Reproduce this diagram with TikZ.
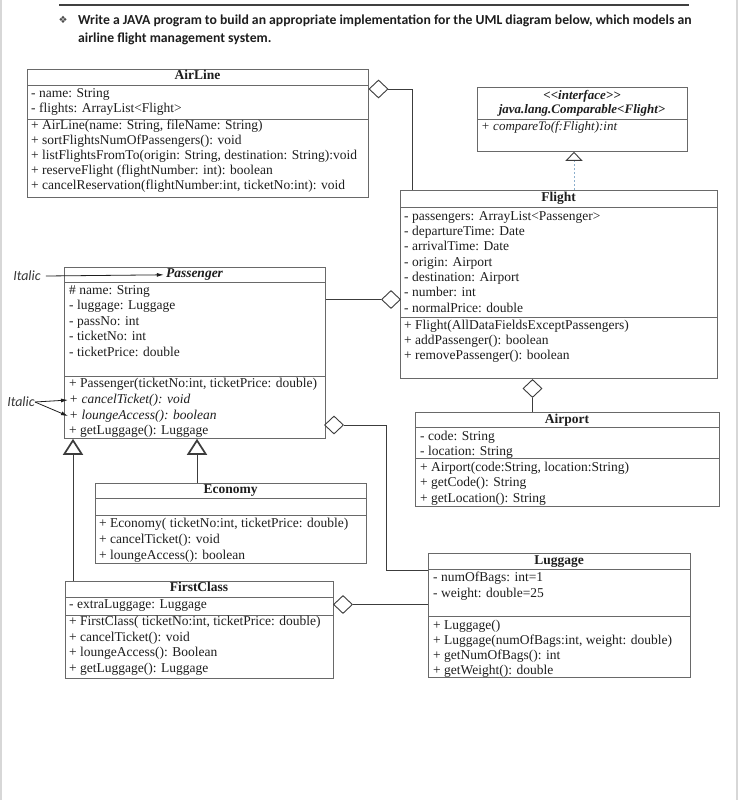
\documentclass[tikz,border=0pt]{standalone}
\usepackage{fontspec}
\setmainfont{Liberation Serif}
\newfontfamily\hdrfont{Carlito}
\newfontfamily\symfont{DejaVu Sans}
\usetikzlibrary{arrows.meta,shapes.geometric}
\definecolor{ink}{RGB}{30,30,30}
\definecolor{boxline}{RGB}{105,105,105}
\definecolor{connc}{RGB}{60,60,60}
\definecolor{dotc}{RGB}{140,175,205}
\definecolor{lblc}{RGB}{55,55,55}
\definecolor{edgec}{RGB}{215,215,215}
\begin{document}
\begin{tikzpicture}[x=1pt,y=-1pt,
 cls/.style={draw=boxline, line width=0.8pt, anchor=north west, inner sep=0pt},
 txt/.style={anchor=mid west, inner sep=0pt, text=ink, font=\fontsize{13.5}{15}\selectfont},
 ttl/.style={anchor=mid, inner sep=0pt, text=ink, font=\fontsize{13.5}{15}\selectfont\bfseries},
 sepl/.style={draw=boxline, line width=0.8pt},
 agg/.style={diamond, draw=connc, fill=white, line width=0.9pt, minimum width=19pt, minimum height=18pt, inner sep=0pt},
 wire/.style={draw=connc, line width=0.9pt},
 inh/.style={wire, -{Triangle[open, length=16pt, width=20pt, line width=1.7pt]}},
 real/.style={draw=dotc, line width=1pt, dash pattern=on 2pt off 2pt, -{Triangle[open, length=9pt, width=17pt, color=connc, line width=0.9pt]}},
 lbl/.style={inner sep=0pt, text=lblc, font=\hdrfont\itshape\fontsize{14}{16}\selectfont},
 lblarrow/.style={draw=ink, line width=0.8pt, -{Latex[length=7pt, width=4pt]}},
 hdr/.style={anchor=base west, inner sep=0pt, text=ink, font=\hdrfont\bfseries\fontsize{13.7}{16}\selectfont}
]
\useasboundingbox (0,0) rectangle (738,800);
\fill[white] (0,0) rectangle (738,800);
\draw[edgec, line width=2pt] (1,0) -- (1,800);
\draw[edgec, line width=2pt] (737,0) -- (737,800);

% header
\draw[ink!85, line width=2pt] (59,5) -- (689,5);
\node[inner sep=0pt, text=ink!80, font=\symfont\fontsize{10}{11}\selectfont] (hb) at (63,20) {❖};
\node[hdr] (h1) at (78,24.5) {Write a JAVA program to build an appropriate implementation for the UML diagram below, which models an};
\node[hdr] (h2) at (78,42.5) {airline flight management system.};

% AirLine
\node[cls, minimum width=341pt, minimum height=128pt] (airline) at (27,69) {};
\node[ttl] (alT) at (197.5,77.5) {AirLine};
\draw[sepl] (27,85) -- (368,85);
\draw[sepl] (27,119) -- (368,119);
\foreach \t [count=\i] in {{- name: String},{- flights: ArrayList<Flight>}}
  \node[txt] (alA\i) at (31,80+15*\i) {\t};
\foreach \t [count=\i] in {{+ AirLine(name: String, fileName: String)},{+ sortFlightsNumOfPassengers(): void},{+ listFlightsFromTo(origin: String, destination: String):void},{+ reserveFlight (flightNumber: int): boolean},{+ cancelReservation(flightNumber:int, ticketNo:int): void}}
  \node[txt] (alM\i) at (31,112+15*\i) {\t};

% Interface
\node[cls, minimum width=210pt, minimum height=64pt] (iface) at (477,87) {};
\node[ttl, font=\fontsize{13}{15}\selectfont\bfseries\itshape] (ifA) at (582,97) {{<}{<}interface{>}{>}};
\node[ttl, font=\fontsize{13}{15}\selectfont\bfseries\itshape] (ifB) at (582,111) {java.lang.Comparable<Flight>};
\draw[sepl] (477,119) -- (687,119);
\node[txt, font=\fontsize{13}{15}\selectfont\itshape] (ifC) at (481,128) {+ compareTo(f:Flight):int};

% Flight
\node[cls, minimum width=317pt, minimum height=188pt] (flight) at (400,190) {};
\node[ttl] (flT) at (558.5,199.5) {Flight};
\draw[sepl] (400,207) -- (717,207);
\draw[sepl] (400,317) -- (717,317);
\foreach \t [count=\i] in {{- passengers: ArrayList<Passenger>},{- departureTime: Date},{- arrivalTime: Date},{- origin: Airport},{- destination: Airport},{- number: int},{- normalPrice: double}}
  \node[txt] (flA\i) at (404,202.7+15.3*\i) {\t};
\foreach \t [count=\i] in {{+ Flight(AllDataFieldsExceptPassengers)},{+ addPassenger(): boolean},{+ removePassenger(): boolean}}
  \node[txt] (flM\i) at (404,312+15*\i) {\t};

% Passenger
\node[cls, minimum width=261pt, minimum height=171pt] (passenger) at (64,267) {};
\node[ttl, font=\fontsize{13.5}{15}\selectfont\bfseries\itshape] (pT) at (194.5,275.5) {Passenger};
\draw[sepl] (64,282) -- (325,282);
\draw[sepl] (64,376) -- (325,376);
\foreach \t [count=\i] in {{\# name: String},{- luggage: Luggage},{- passNo: int},{- ticketNo: int},{- ticketPrice: double}}
  \node[txt] (pA\i) at (69,276.5+15.5*\i) {\t};
\node[txt] (pM1) at (69,385) {+ Passenger(ticketNo:int, ticketPrice: double)};
\node[txt, font=\fontsize{13.5}{15}\selectfont\itshape] (pM2) at (69,401) {+ cancelTicket(): void};
\node[txt, font=\fontsize{13.5}{15}\selectfont\itshape] (pM3) at (69,417) {+ loungeAccess(): boolean};
\node[txt] (pM4) at (69,432) {+ getLuggage(): Luggage};

% Airport
\node[cls, minimum width=304pt, minimum height=94pt] (airport) at (415,412) {};
\node[ttl] (apT) at (567,421.5) {Airport};
\draw[sepl] (415,427) -- (719,427);
\draw[sepl] (415,458) -- (719,458);
\foreach \t [count=\i] in {{- code: String},{- location: String}}
  \node[txt] (apA\i) at (420,422.5+15.5*\i) {\t};
\foreach \t [count=\i] in {{+ Airport(code:String, location:String)},{+ getCode(): String},{+ getLocation(): String}}
  \node[txt] (apM\i) at (420,453.5+15.5*\i) {\t};

% Economy
\node[cls, minimum width=271pt, minimum height=80pt] (economy) at (95,483) {};
\node[ttl] (ecT) at (230.5,491.5) {Economy};
\draw[sepl] (95,498) -- (366,498);
\draw[sepl] (95,515) -- (366,515);
\foreach \t [count=\i] in {{+ Economy( ticketNo:int, ticketPrice: double)},{+ cancelTicket(): void},{+ loungeAccess(): boolean}}
  \node[txt] (ecM\i) at (99,509+16*\i) {\t};

% FirstClass
\node[cls, minimum width=268pt, minimum height=97pt] (firstclass) at (65,581) {};
\node[ttl] (fcT) at (199,589.5) {FirstClass};
\draw[sepl] (65,597) -- (333,597);
\draw[sepl] (65,615) -- (333,615);
\node[txt] (fcA1) at (69,606.5) {- extraLuggage: Luggage};
\foreach \t [count=\i] in {{+ FirstClass( ticketNo:int, ticketPrice: double)},{+ cancelTicket(): void},{+ loungeAccess(): Boolean},{+ getLuggage(): Luggage}}
  \node[txt] (fcM\i) at (69,607.5+15.7*\i) {\t};

% Luggage
\node[cls, minimum width=262pt, minimum height=124pt] (luggage) at (428,553) {};
\node[ttl] (lgT) at (559,562.5) {Luggage};
\draw[sepl] (428,569) -- (690,569);
\draw[sepl] (428,616) -- (690,616);
\foreach \t [count=\i] in {{- numOfBags: int=1},{- weight: double=25}}
  \node[txt] (lgA\i) at (433,563+16*\i) {\t};
\foreach \t [count=\i] in {{+ Luggage()},{+ Luggage(numOfBags:int, weight: double)},{+ getNumOfBags(): int},{+ getWeight(): double}}
  \node[txt] (lgM\i) at (433,612+15*\i) {\t};

% aggregations
\node[agg] (d1) at (378.5,89) {};
\coordinate (fjoin) at ([xshift=12pt]flight.north west);
\draw[wire] (d1.east) -| (fjoin);

\node[agg] (d2) at (391,299.5) {};
\draw[wire] (passenger.east |- d2.west) -- (d2.west);

\node[agg] (d3) at (532.5,388.5) {};
\draw[wire] (d3.south) -- (d3.south |- airport.north);

\node[agg] (d4) at (334,425) {};
\coordinate (lgin) at ([yshift=-17pt]luggage.north west);
\draw[wire] (d4.east) -- ++(42,0) |- (lgin);

\node[agg] (d5) at (343,604.5) {};
\draw[wire] (d5.east) -- (d5.east -| luggage.west);

% generalizations
\coordinate (ecTop) at ([xshift=102pt]economy.north west);
\draw[inh] (ecTop) -- (ecTop |- passenger.south);
\coordinate (fcTop) at ([xshift=8pt]firstclass.north west);
\draw[inh] (fcTop) -- (fcTop |- passenger.south);

% realization
\coordinate (flTop) at ([xshift=174pt]flight.north west);
\draw[real] (flTop) -- (flTop |- iface.south);

% italic notes
\node[lbl] (it1) at (27,276) {Italic};
\draw[lblarrow] ([xshift=5pt]it1.east) -- ([xshift=-2pt]pT.west);
\node[lbl] (it2) at (21,402) {Italic};
\draw[lblarrow] (it2.east) -- ([xshift=-1pt]pM2.west);
\draw[lblarrow] (it2.east) -- ([xshift=-1pt]pM3.west);
\end{tikzpicture}
\end{document}
